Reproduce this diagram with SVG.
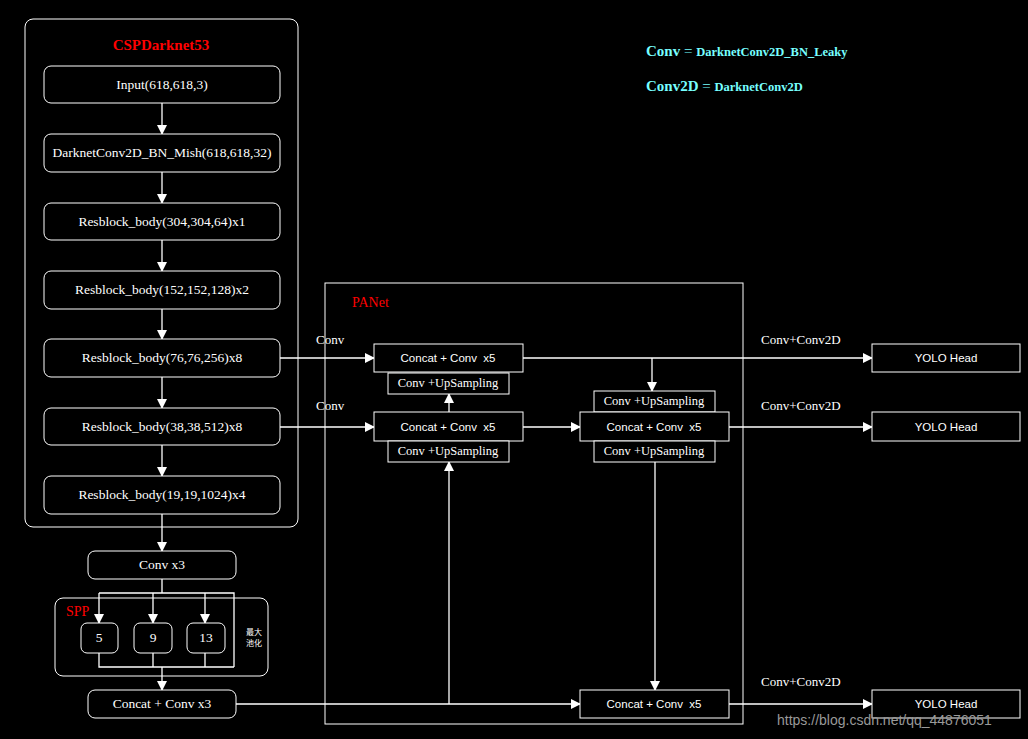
<svg xmlns="http://www.w3.org/2000/svg" width="1028" height="739" viewBox="0 0 1028 739">
<defs>
<marker id="ah" markerWidth="10" markerHeight="10" refX="9" refY="5" orient="auto" markerUnits="userSpaceOnUse"><path d="M0,0 L10,5 L0,10 z" fill="#fff"/></marker>
<style>
.n rect{fill:#000;stroke:#fff;stroke-width:1}
.t{font-family:"Liberation Serif",serif;font-size:13.5px;fill:#fff;text-anchor:middle}
.u{font-family:"Liberation Serif",serif;font-size:12.5px;fill:#fff;text-anchor:middle}
.s{font-family:"Liberation Sans",sans-serif;font-size:11.5px;fill:#fff;text-anchor:middle;white-space:pre}
.c path{fill:none;stroke:#fff;stroke-width:1.3}
.r{font-family:"Liberation Serif",serif;fill:#f00}
.cy{font-family:"Liberation Serif",serif;fill:#7ff;font-weight:bold}
</style>
</defs>
<rect width="1028" height="739" fill="#000"/>
<g id="csp"><rect x="25" y="19" width="273" height="508" rx="8" fill="none" stroke="#fff"/><text x="161" y="50" class="r" font-size="15" font-weight="bold" text-anchor="middle">CSPDarknet53</text></g>
<g id="spp"><rect x="55" y="598" width="213" height="78" rx="8" fill="none" stroke="#fff"/><text x="66" y="616" class="r" font-size="14">SPP</text><text x="254" y="635" font-family="'Noto Sans CJK SC',sans-serif" font-size="8" fill="#fff" text-anchor="middle">最大</text><text x="254" y="646" font-family="'Noto Sans CJK SC',sans-serif" font-size="8" fill="#fff" text-anchor="middle">池化</text></g>
<g id="panet"><rect x="325" y="283" width="418" height="441" fill="none" stroke="#fff"/><text x="352" y="307" class="r" font-size="14">PANet</text></g>
<g id="legend"><text x="646" y="56" class="cy" font-size="15">Conv <tspan font-weight="normal">=</tspan> <tspan font-size="12.5">DarknetConv2D_BN_Leaky</tspan></text><text x="646" y="91" class="cy" font-size="15">Conv2D <tspan font-weight="normal">=</tspan> <tspan font-size="12.5">DarknetConv2D</tspan></text></g>
<g class="c" id="connectors">
<path d="M162,103V134" marker-end="url(#ah)"/><path d="M162,172V203" marker-end="url(#ah)"/><path d="M162,240V271" marker-end="url(#ah)"/><path d="M162,309V339" marker-end="url(#ah)"/><path d="M162,377V408" marker-end="url(#ah)"/><path d="M162,445V476" marker-end="url(#ah)"/><path d="M162,514V551" marker-end="url(#ah)"/>
<path d="M162,579V593M99,593H234V667"/><path d="M99,593V623" marker-end="url(#ah)"/><path d="M153,593V623" marker-end="url(#ah)"/><path d="M205,593V623" marker-end="url(#ah)"/>
<path d="M99,653V667H234M153,653V667M205,653V667"/><path d="M162,667V690" marker-end="url(#ah)"/>
<path d="M280,358H374" marker-end="url(#ah)"/><path d="M280,427H374" marker-end="url(#ah)"/>
<path d="M449,412V394" marker-end="url(#ah)"/>
<path d="M449,704V462" marker-end="url(#ah)"/>
<path d="M236,704H580" marker-end="url(#ah)"/>
<path d="M523,427H580" marker-end="url(#ah)"/>
<path d="M652,358V391" marker-end="url(#ah)"/>
<path d="M655,462V690" marker-end="url(#ah)"/>
<path d="M523,358H872" marker-end="url(#ah)"/><path d="M729,427H872" marker-end="url(#ah)"/><path d="M729,704H872" marker-end="url(#ah)"/>
</g>
<g font-family="Liberation Serif,serif" font-size="13" fill="#fff">
<text x="316" y="344">Conv</text><text x="316" y="410">Conv</text>
<text x="761" y="344">Conv+Conv2D</text><text x="761" y="410">Conv+Conv2D</text><text x="761" y="686">Conv+Conv2D</text>
</g>
<g class="n" id="input"><rect x="44" y="66" width="236" height="37" rx="7"/><text x="162" y="89" class="t">Input(618,618,3)</text></g>
<g class="n" id="dc"><rect x="44" y="134" width="236" height="38" rx="7"/><text x="162" y="157" class="t">DarknetConv2D_BN_Mish(618,618,32)</text></g>
<g class="n" id="rb1"><rect x="44" y="203" width="236" height="37" rx="7"/><text x="162" y="226" class="t">Resblock_body(304,304,64)x1</text></g>
<g class="n" id="rb2"><rect x="44" y="271" width="236" height="38" rx="7"/><text x="162" y="294" class="t">Resblock_body(152,152,128)x2</text></g>
<g class="n" id="rb3"><rect x="44" y="339" width="236" height="38" rx="7"/><text x="162" y="362" class="t">Resblock_body(76,76,256)x8</text></g>
<g class="n" id="rb4"><rect x="44" y="408" width="236" height="37" rx="7"/><text x="162" y="431" class="t">Resblock_body(38,38,512)x8</text></g>
<g class="n" id="rb5"><rect x="44" y="476" width="236" height="38" rx="7"/><text x="162" y="499" class="t">Resblock_body(19,19,1024)x4</text></g>
<g class="n" id="conv3"><rect x="88" y="551" width="148" height="28" rx="7"/><text x="162" y="569" class="t">Conv x3</text></g>
<g class="n" id="p5"><rect x="81" y="623" width="37" height="30" rx="6"/><text x="99" y="642" class="t">5</text></g>
<g class="n" id="p9"><rect x="134" y="623" width="38" height="30" rx="6"/><text x="153" y="642" class="t">9</text></g>
<g class="n" id="p13"><rect x="187" y="623" width="38" height="30" rx="6"/><text x="206" y="642" class="t">13</text></g>
<g class="n" id="cc3"><rect x="88" y="690" width="148" height="28" rx="7"/><text x="162" y="708" class="t">Concat + Conv x3</text></g>
<g class="n" id="c1"><rect x="374" y="344" width="149" height="28"/><text x="448" y="362" class="s">Concat + Conv  x5</text></g>
<g class="n" id="u1"><rect x="388" y="373" width="121" height="21"/><text x="448" y="387" class="u">Conv +UpSampling</text></g>
<g class="n" id="c2"><rect x="374" y="412" width="149" height="29"/><text x="448" y="431" class="s">Concat + Conv  x5</text></g>
<g class="n" id="u2"><rect x="388" y="441" width="121" height="21"/><text x="448" y="455" class="u">Conv +UpSampling</text></g>
<g class="n" id="u3"><rect x="594" y="391" width="121" height="21"/><text x="654" y="405" class="u">Conv +UpSampling</text></g>
<g class="n" id="c3"><rect x="580" y="412" width="149" height="29"/><text x="654" y="431" class="s">Concat + Conv  x5</text></g>
<g class="n" id="u4"><rect x="594" y="441" width="121" height="21"/><text x="654" y="455" class="u">Conv +UpSampling</text></g>
<g class="n" id="c4"><rect x="580" y="690" width="149" height="28"/><text x="654" y="708" class="s">Concat + Conv  x5</text></g>
<g class="n" id="y1"><rect x="872" y="344" width="148" height="28"/><text x="946" y="362" class="s">YOLO Head</text></g>
<g class="n" id="y2"><rect x="872" y="412" width="148" height="29"/><text x="946" y="431" class="s">YOLO Head</text></g>
<g class="n" id="y3"><rect x="872" y="690" width="148" height="28"/><text x="946" y="708" class="s">YOLO Head</text></g>
<text x="777" y="725" font-family="Liberation Sans,sans-serif" font-size="14" fill="#999">https://blog.csdn.net/qq_44876051</text>
</svg>
